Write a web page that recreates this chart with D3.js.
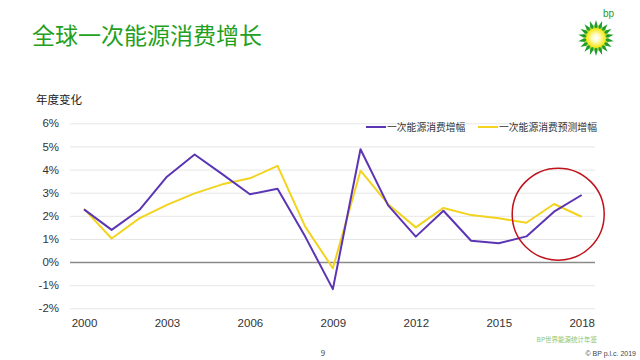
<!DOCTYPE html>
<html>
<head>
<meta charset="utf-8">
<script src="https://cdn.jsdelivr.net/npm/d3@7"></script>
<style>
  html, body { margin: 0; padding: 0; background: #fff; }
  svg { display: block; font-family: "Noto Sans CJK SC", "Noto Sans", sans-serif; }
</style>
</head>
<body>
<svg id="chart" width="640" height="360"></svg>
<script>
// ---- data ----
const years = [2000,2001,2002,2003,2004,2005,2006,2007,2008,2009,2010,2011,2012,2013,2014,2015,2016,2017,2018];
const actualGrowth = [2.28,1.39,2.25,3.69,4.65,3.80,2.93,3.17,1.10,-1.17,4.88,2.45,1.10,2.22,0.92,0.81,1.11,2.18,2.90];
const forecastGrowth = [2.30,1.02,1.89,2.47,2.97,3.36,3.62,4.16,1.53,-0.27,3.95,2.50,1.50,2.34,2.03,1.89,1.70,2.51,1.96];
const seriesNames = ["一次能源消费增幅", "一次能源消费预测增幅"];
const yTicks = [-2,-1,0,1,2,3,4,5,6];
const xTicks = [2000,2003,2006,2009,2012,2015,2018];
const titleText = "全球一次能源消费增长";
const yAxisTitle = "年度变化";

// ---- layout ----
const svg = d3.select("#chart");
const colors = ["#5b35b3", "#f2d31e"];
const gridLeft = 70, gridRight = 595;
const x = d3.scaleLinear().domain([2000, 2018]).range([84, 581.7]);
const y = d3.scaleLinear().domain([-2, 6]).range([308.3, 123.3]);

// title
svg.append("text").attr("x", 32).attr("y", 44)
  .attr("font-size", 23).attr("fill", "#23a022").text(titleText);

// bp logo
const logo = svg.append("g").attr("transform", "translate(596,38)");
const nPet = 18;
const petalPts = [];
for (let i = 0; i < nPet * 2; i++) {
  const a = i * Math.PI / nPet - Math.PI / 2;
  const r = i % 2 === 0 ? 18 : 11.5;
  petalPts.push([r * Math.cos(a), r * Math.sin(a)]);
}
logo.append("path").attr("d", "M" + petalPts.map(p => p.join(",")).join("L") + "Z").attr("fill", "#1f9c2a");
const innerPts = [];
for (let i = 0; i < nPet * 2; i++) {
  const a = (i + 1) * Math.PI / nPet - Math.PI / 2;
  const r = i % 2 === 0 ? 13.5 : 9;
  innerPts.push([r * Math.cos(a), r * Math.sin(a)]);
}
logo.append("path").attr("d", "M" + innerPts.map(p => p.join(",")).join("L") + "Z").attr("fill", "#9fd03a");
const defs = svg.append("defs");
const rg = defs.append("radialGradient").attr("id", "sun");
rg.append("stop").attr("offset", "0%").attr("stop-color", "#ffffff");
rg.append("stop").attr("offset", "40%").attr("stop-color", "#fffbc0");
rg.append("stop").attr("offset", "100%").attr("stop-color", "#f7e400");
logo.append("circle").attr("r", 10).attr("fill", "url(#sun)");
svg.append("text").attr("x", 603).attr("y", 17).attr("font-size", 10)
  .attr("font-family", "Liberation Sans, Arial, sans-serif").attr("fill", "#1f9c2a").text("bp");

// y axis title
svg.append("text").attr("x", 36).attr("y", 104).attr("font-size", 11.5)
  .attr("fill", "#222").text(yAxisTitle);

// y axis with grid
const yAxis = d3.axisLeft(y).tickValues(yTicks)
  .tickFormat(d => d + "%")
  .tickSize(-(gridRight - gridLeft)).tickPadding(11);
const gy = svg.append("g").attr("transform", `translate(${gridLeft},0)`).call(yAxis);
gy.select(".domain").remove();
gy.selectAll(".tick line").attr("stroke", d => d === 0 ? "#8a8a8a" : "#e6e6e6")
  .attr("stroke-width", d => d === 0 ? 1.5 : 1);
gy.selectAll(".tick text").attr("font-size", 11.5).attr("fill", "#333")
  .attr("font-family", "Liberation Sans, Arial, sans-serif");

// x axis
const xAxis = d3.axisBottom(x).tickValues(xTicks).tickFormat(d3.format("d"))
  .tickSize(0).tickPadding(11);
const gx = svg.append("g").attr("transform", `translate(0,${y(-2)})`).call(xAxis);
gx.select(".domain").remove();
gx.selectAll(".tick text").attr("font-size", 11.5).attr("fill", "#333")
  .attr("font-family", "Liberation Sans, Arial, sans-serif");

// lines
const series = [actualGrowth, forecastGrowth];
const line = d3.line().x((d, i) => x(years[i])).y(d => y(d));
[1, 0].forEach(k => {
  svg.append("path").datum(series[k]).attr("d", line)
    .attr("fill", "none").attr("stroke", colors[k]).attr("stroke-width", 2)
    .attr("stroke-linejoin", "round");
});

// red circle annotation
svg.append("circle").attr("cx", x(2017.15)).attr("cy", y(2.07)).attr("r", 46)
  .attr("fill", "none").attr("stroke", "#c1121b").attr("stroke-width", 1.5);

// legend
const legendX = [366, 478];
seriesNames.forEach((name, k) => {
  svg.append("line").attr("x1", legendX[k]).attr("x2", legendX[k] + 20)
    .attr("y1", 127).attr("y2", 127).attr("stroke", colors[k]).attr("stroke-width", 2);
  svg.append("text").attr("x", legendX[k] + 21).attr("y", 130.5)
    .attr("font-size", 9.8).attr("fill", "#333").text(name);
});

// footer
svg.append("text").attr("x", 323).attr("y", 356).attr("text-anchor", "middle")
  .attr("font-size", 8).attr("fill", "#444").text("9");
svg.append("text").attr("x", 597).attr("y", 342).attr("text-anchor", "end")
  .attr("font-size", 6.5).attr("fill", "#8fc46a").text("BP世界能源统计年鉴");
svg.append("text").attr("x", 636).attr("y", 356).attr("text-anchor", "end")
  .attr("font-size", 7).attr("fill", "#444")
  .attr("font-family", "Liberation Sans, Arial, sans-serif").text("© BP p.l.c. 2019");
</script>
</body>
</html>
